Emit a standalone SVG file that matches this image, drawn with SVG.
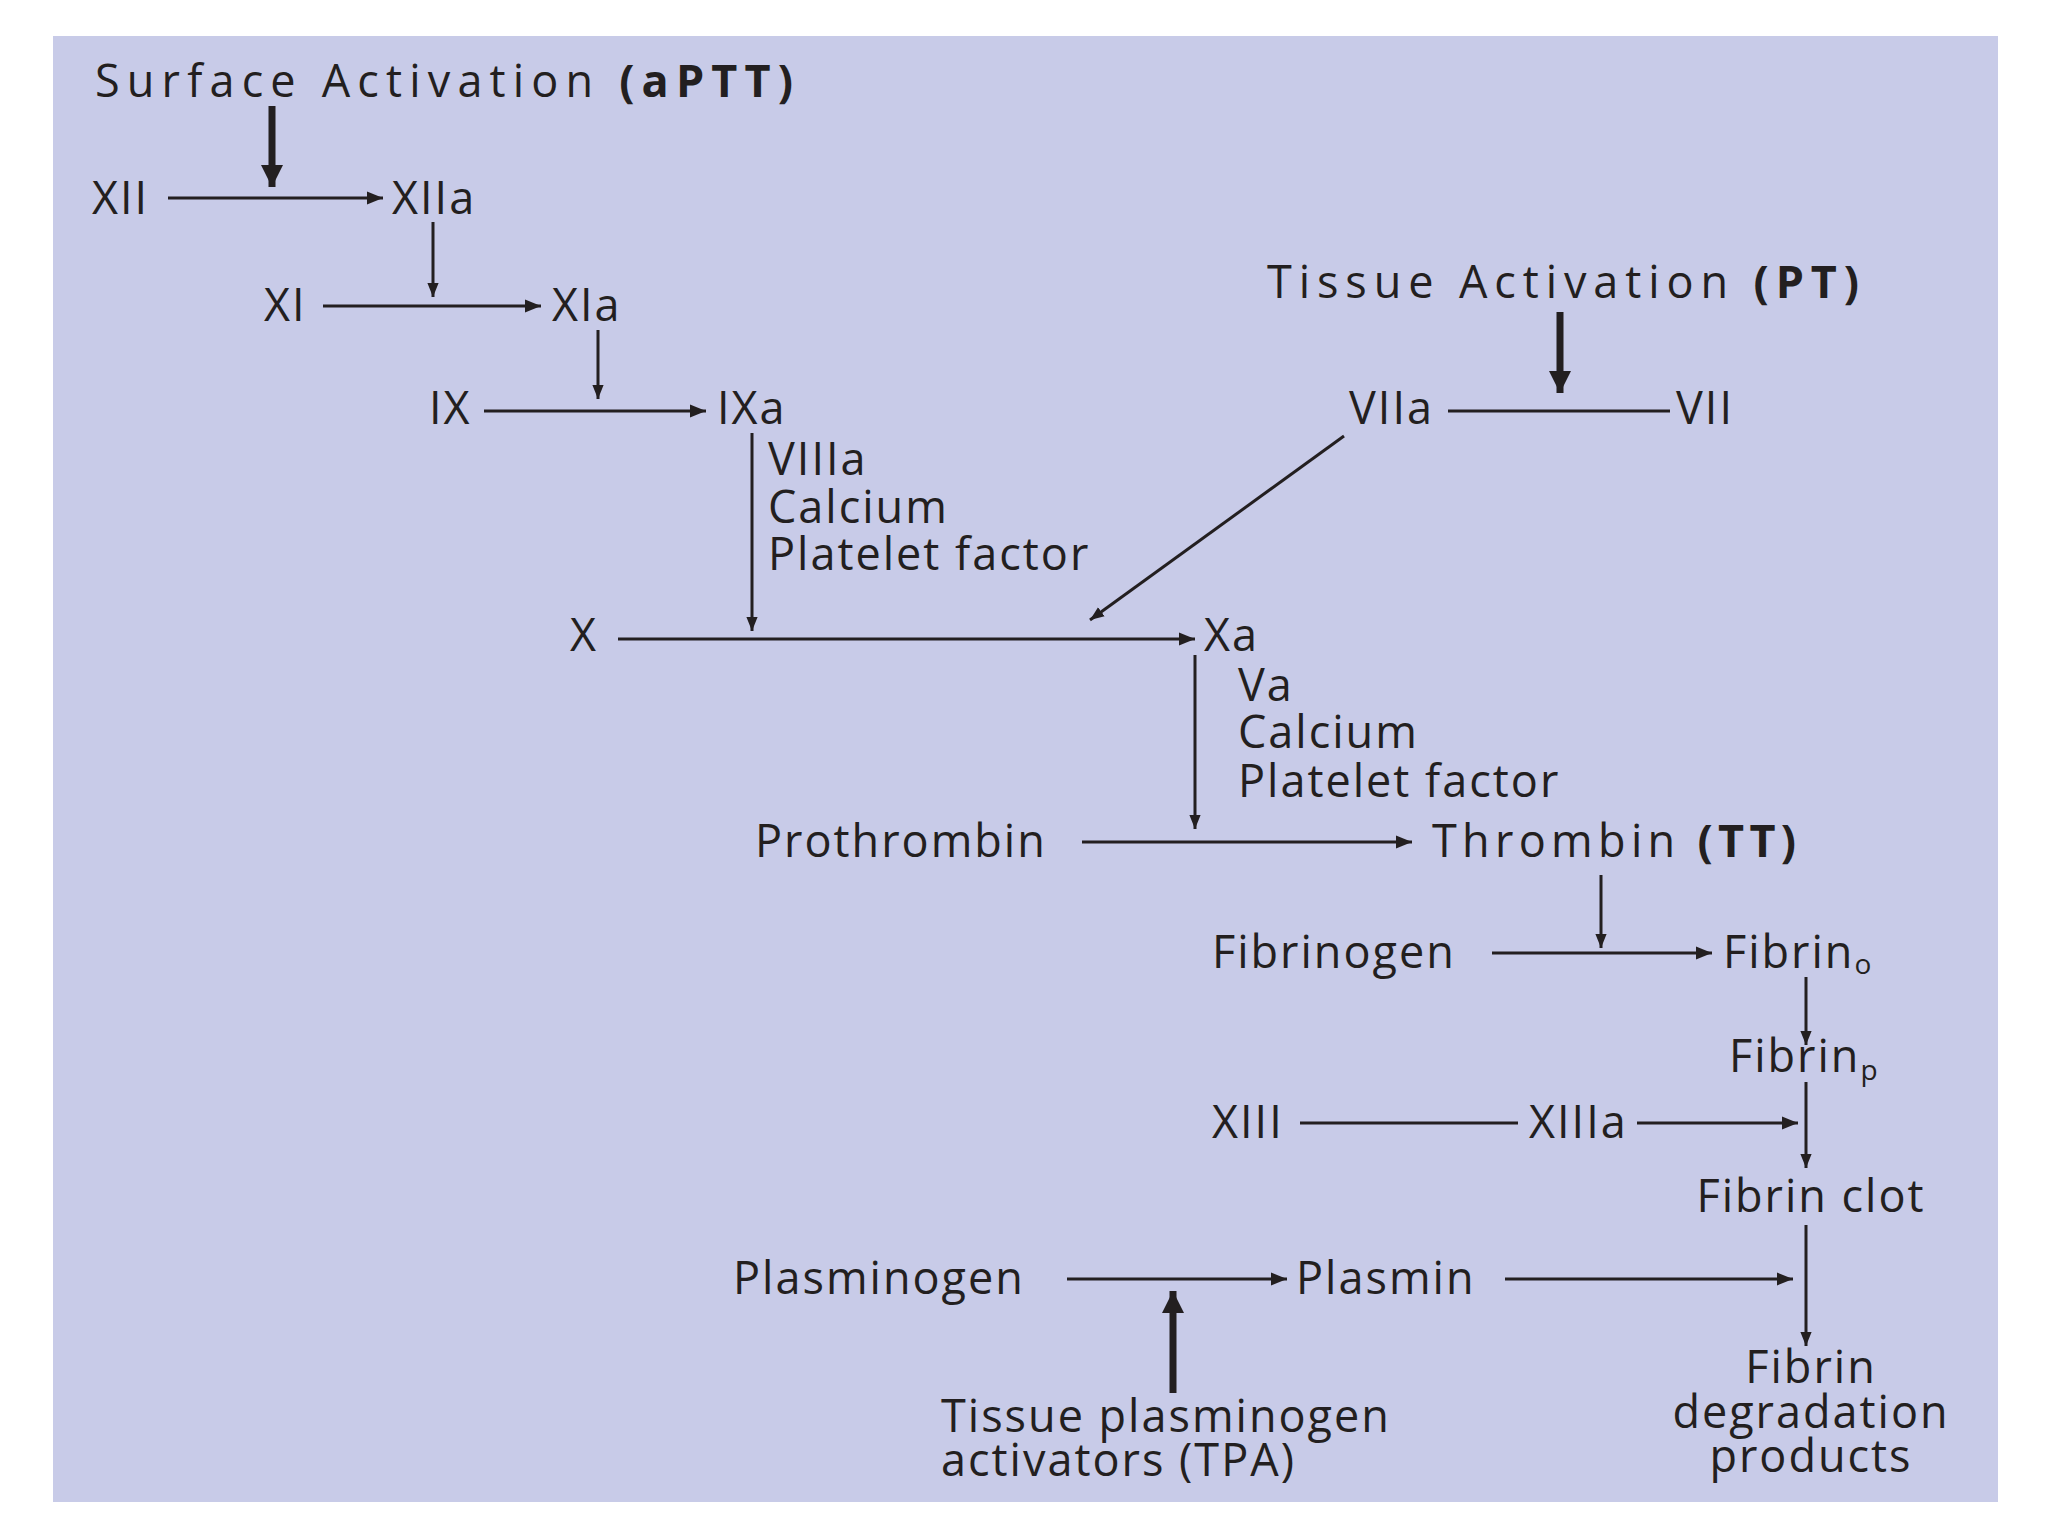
<svg xmlns="http://www.w3.org/2000/svg" width="2048" height="1536" viewBox="0 0 2048 1536">
<style>
text{font-family:"Open Sans","Liberation Sans",Arial,sans-serif;font-size:45px;letter-spacing:2px;fill:#231f20}
.b{font-weight:bold}
.c{text-anchor:middle}
line{stroke:#231f20;stroke-width:3}
.t{stroke-width:7}
</style>
<defs>
<marker id="a" viewBox="0 0 10 10" refX="10" refY="5" markerWidth="14" markerHeight="20" markerUnits="userSpaceOnUse" orient="auto"><path d="M0,1 L10,5 L0,9z" fill="#231f20"/></marker>
<marker id="at" viewBox="0 0 10 10" refX="10" refY="5" markerWidth="26" markerHeight="22" markerUnits="userSpaceOnUse" orient="auto"><path d="M0,0 L10,5 L0,10z" fill="#231f20"/></marker>
<marker id="am" viewBox="0 0 10 10" refX="10" refY="5" markerWidth="26" markerHeight="16" markerUnits="userSpaceOnUse" orient="auto"><path d="M0,1 L10,5 L0,9z" fill="#231f20"/></marker>
</defs>
<rect x="0" y="0" width="2048" height="1536" fill="#fff"/>
<rect x="53" y="36" width="1945" height="1466" fill="#c8cbe8"/>
<g id="connectors">
<line class="t" x1="272" y1="106" x2="272" y2="187" marker-end="url(#at)"/>
<line x1="168" y1="198" x2="383" y2="198" marker-end="url(#am)"/>
<line x1="433" y1="222" x2="433" y2="297" marker-end="url(#a)"/>
<line x1="323" y1="306" x2="541" y2="306" marker-end="url(#am)"/>
<line x1="598" y1="330" x2="598" y2="399" marker-end="url(#a)"/>
<line x1="484" y1="411" x2="706" y2="411" marker-end="url(#am)"/>
<line x1="752" y1="433" x2="752" y2="631" marker-end="url(#a)"/>
<line x1="618" y1="639" x2="1195" y2="639" marker-end="url(#am)"/>
<line x1="1344" y1="436" x2="1090" y2="620" marker-end="url(#a)"/>
<line class="t" x1="1560" y1="312" x2="1560" y2="393" marker-end="url(#at)"/>
<line x1="1448" y1="411" x2="1670" y2="411"/>
<line x1="1195" y1="655" x2="1195" y2="829" marker-end="url(#a)"/>
<line x1="1082" y1="842" x2="1412" y2="842" marker-end="url(#am)"/>
<line x1="1601" y1="875" x2="1601" y2="948" marker-end="url(#a)"/>
<line x1="1492" y1="953" x2="1712" y2="953" marker-end="url(#am)"/>
<line x1="1806" y1="977" x2="1806" y2="1045" marker-end="url(#a)"/>
<line x1="1300" y1="1123" x2="1518" y2="1123"/>
<line x1="1637" y1="1123" x2="1798" y2="1123" marker-end="url(#am)"/>
<line x1="1806" y1="1082" x2="1806" y2="1168" marker-end="url(#a)"/>
<line x1="1806" y1="1225" x2="1806" y2="1346" marker-end="url(#a)"/>
<line x1="1067" y1="1279" x2="1287" y2="1279" marker-end="url(#am)"/>
<line x1="1505" y1="1279" x2="1793" y2="1279" marker-end="url(#am)"/>
<line class="t" x1="1173" y1="1393" x2="1173" y2="1291" marker-end="url(#at)"/>
</g>
<g id="surface"><text x="95" y="97" textLength="700">Surface Activation <tspan class="b">(aPTT)</tspan></text></g>
<g id="xii"><text x="92" y="214">XII</text></g>
<g id="xiia"><text x="392" y="214">XIIa</text></g>
<g id="xi"><text x="264" y="321">XI</text></g>
<g id="xia"><text x="552" y="321">XIa</text></g>
<g id="ix"><text x="429" y="424">IX</text></g>
<g id="ixa"><text x="717" y="424">IXa</text></g>
<g id="cof1"><text x="768" y="475">VIIIa</text><text x="768" y="523">Calcium</text><text x="768" y="570">Platelet factor</text></g>
<g id="x"><text x="570" y="651">X</text></g>
<g id="xa"><text x="1204" y="651">Xa</text></g>
<g id="tissue"><text x="1267" y="298" textLength="594">Tissue Activation <tspan class="b">(PT)</tspan></text></g>
<g id="viia"><text x="1349" y="424">VIIa</text></g>
<g id="vii"><text x="1676" y="424">VII</text></g>
<g id="cof2"><text x="1238" y="701">Va</text><text x="1238" y="748">Calcium</text><text x="1238" y="797">Platelet factor</text></g>
<g id="prothrombin"><text x="755" y="857">Prothrombin</text></g>
<g id="thrombin"><text x="1432" y="857" textLength="366">Thrombin <tspan class="b">(TT)</tspan></text></g>
<g id="fibrinogen"><text x="1212" y="968">Fibrinogen</text></g>
<g id="fibrino"><text x="1723" y="968">Fibrin<tspan font-size="28" dy="6">o</tspan></text></g>
<g id="fibrinp"><text x="1729" y="1072">Fibrin<tspan font-size="28" dy="8">p</tspan></text></g>
<g id="xiii"><text x="1212" y="1138">XIII</text></g>
<g id="xiiia"><text x="1529" y="1138">XIIIa</text></g>
<g id="clot"><text class="c" x="1811" y="1212">Fibrin clot</text></g>
<g id="plasminogen"><text x="733" y="1294">Plasminogen</text></g>
<g id="plasmin"><text x="1296" y="1294">Plasmin</text></g>
<g id="tpa"><text x="941" y="1432">Tissue plasminogen</text><text x="941" y="1476">activators (TPA)</text></g>
<g id="fdp"><text class="c" x="1811" y="1383">Fibrin</text><text class="c" x="1811" y="1428">degradation</text><text class="c" x="1811" y="1472">products</text></g>
</svg>
